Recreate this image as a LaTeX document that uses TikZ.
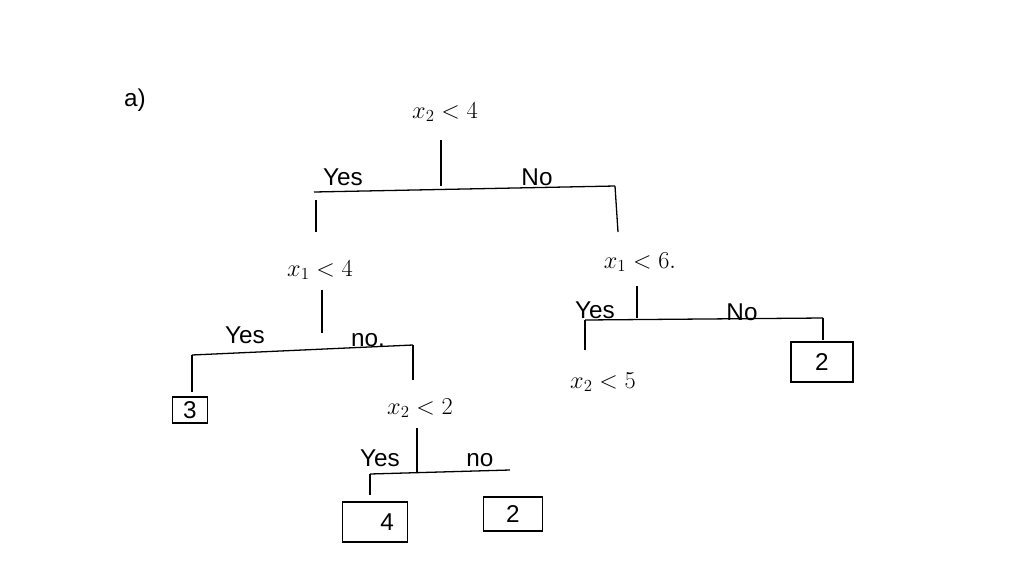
\documentclass[tikz,border=0pt]{standalone}
\usepackage{fontspec}
\setmainfont{Liberation Sans}
\begin{document}
\begin{tikzpicture}[x=0.03cm,y=-0.03cm,line width=1.1pt,
  lbl/.style={font=\huge},
  leaf/.style={draw,line width=1.1pt,font=\huge,inner sep=0pt}]
\useasboundingbox (0,0) rectangle (1024,576);
\node[lbl] (a) at (135,100) {a)};
% root
\node[lbl] (r) at (445,112) {$x_2 < 4$};
\coordinate (rt) at (441,140); \coordinate (rb) at (441,186);
\coordinate (rl) at (314,192); \coordinate (rr) at (615,186);
\draw (rt) -- (rb); \draw (rl) -- (rr);
\draw (316,200) -- (316,232); \draw (rr) -- (618,232);
\node[lbl] at (343,177) {Yes}; \node[lbl] at (537,177) {No};
% left x1<4
\node[lbl] (n1) at (320,270) {$x_1 < 4$};
\coordinate (n1t) at (322,290); \coordinate (n1b) at (322,333);
\draw (n1t) -- (n1b);
\coordinate (n1l) at (192,355); \coordinate (n1r) at (413,345);
\draw (n1l) -- (n1r);
\node[leaf,minimum width=30pt,minimum height=22pt] (l3) at (190,410) {3};
\draw (n1l) -- (192,392);
\draw (n1r) -- (413,380);
\node[lbl] at (245,335) {Yes}; \node[lbl] at (368,340) {no.};
\node[lbl] (n2) at (420,408) {$x_2 < 2$};
\coordinate (n2t) at (417,428); \coordinate (n2b) at (417,472);
\draw (n2t) -- (n2b);
\coordinate (n2l) at (370,474); \coordinate (n2r) at (510,470);
\draw (n2l) -- (n2r);
\node[lbl] at (380,458) {Yes}; \node[lbl] at (480,460) {no};
\node[leaf,minimum width=55pt,minimum height=34pt] (l4) at (375,522) {\quad 4};
\node[leaf,minimum width=50pt,minimum height=29pt] (l2a) at (513,514) {2};
\draw (n2l) -- (370,495);
% right x1<6
\node[lbl] (n3) at (640,262) {$x_1 < 6.$};
\coordinate (n3t) at (637,286); \coordinate (n3b) at (637,318);
\draw (n3t) -- (n3b);
\coordinate (n3l) at (585,320); \coordinate (n3r) at (823,318);
\draw (n3l) -- (n3r);
\draw (n3l) -- (585,350); \draw (n3r) -- (823,340);
\node[lbl] at (595,310) {Yes}; \node[lbl] at (742,312) {No};
\node[lbl] (n4) at (603,382) {$x_2 < 5$};
\node[leaf,minimum width=53pt,minimum height=34pt] (l2b) at (822,362) {2};
\end{tikzpicture}
\end{document}
